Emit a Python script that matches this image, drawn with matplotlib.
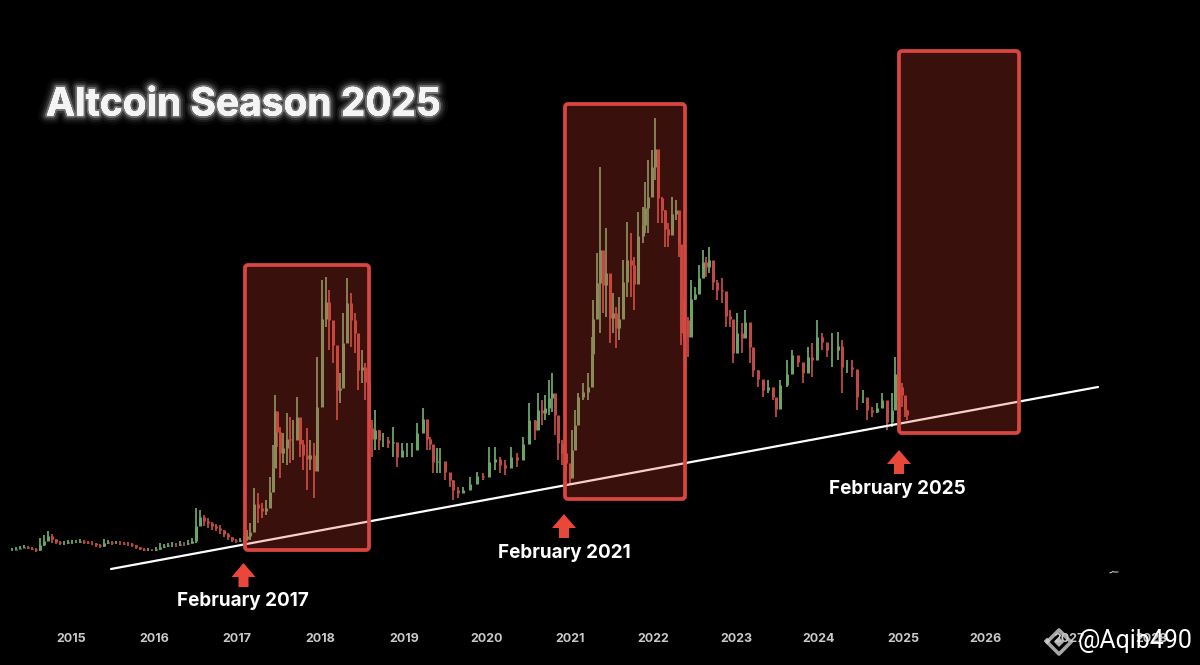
import numpy as np
import matplotlib
matplotlib.use("Agg")
import matplotlib.pyplot as plt
import matplotlib.patheffects as pe
from matplotlib.patches import FancyBboxPatch

# chart units: the axes run 0-1200 across and 665-0 down
year_labels = ["2015", "2016", "2017", "2018", "2019", "2020", "2021", "2022",
               "2023", "2024", "2025", "2026", "2027", "2028"]
year_pos = [71.5, 154.5, 237, 320, 404, 487, 570, 653, 736, 819, 903, 986, 1069, 1152]

bar_x = [12, 16, 20, 24, 28, 32, 36, 40, 44, 48, 52, 56, 60, 64, 68, 72, 76, 80, 84, 88,
         92, 96, 100, 104, 108, 112, 116, 120, 124, 128, 132, 136, 140, 144, 148, 152,
         156, 160, 164, 168, 172, 176, 180, 184, 188, 192, 196, 200, 204, 208, 212, 216,
         220, 224, 228, 232, 236, 240, 244, 247,
         250, 254, 258, 262, 266, 270, 273, 275, 277, 280, 283, 287, 290, 293, 297, 300,
         303, 307, 310, 314, 317, 322, 326, 329, 333, 337, 340, 343, 347, 351, 355, 358,
         362, 365, 369, 372, 375, 379, 383, 388, 393, 397, 402, 407, 412, 417, 423, 427,
         430, 433, 437, 440, 445, 450, 453, 458, 463, 470, 477, 483, 489, 495, 500, 505,
         511, 517, 523, 529, 535, 538, 542, 545, 549, 552, 555, 558, 562, 566, 570,
         572, 575, 578, 583, 588, 592, 593, 597, 600, 603, 606, 610, 613, 616, 619, 623,
         627, 631, 634, 638, 643, 645, 648, 652, 655, 658, 662, 665, 668, 672, 676, 679,
         681, 684, 688, 691, 695, 699, 703, 706, 709, 713, 717, 722, 726, 730, 733, 737,
         742, 745, 750, 753, 758, 763, 768, 773, 776, 780, 787, 792, 798, 803, 808, 812,
         817, 822, 827, 832, 838, 842, 847, 852, 857, 863, 867, 872, 877, 882, 887, 892,
         895, 898, 902, 905, 907]
bar_high = [548, 547, 546, 545, 546, 547, 548, 538, 535, 531, 534, 539, 541, 541, 540, 540,
            540, 539, 540, 541, 541, 543, 544, 539, 540, 541, 541, 541, 542, 542, 543, 545,
            547, 548, 548, 549, 547, 543, 544, 543, 542, 543, 541, 542, 540, 538, 508, 510,
            515, 518, 522, 524, 525, 530, 533, 537, 539, 538, 536, 530,
            523, 488, 493, 503, 500, 477, 445, 395, 417, 427, 433, 413, 417, 420, 397, 430,
            440, 428, 440, 443, 357, 280, 277, 290, 327, 360, 373, 313, 278, 293, 313, 350,
            350, 363, 403, 420, 410, 430, 433, 437, 427, 447, 443, 443, 443, 423, 408, 427,
            437, 450, 448, 448, 463, 473, 480, 487, 487, 477, 472, 473, 447, 447, 457, 460,
            447, 453, 437, 403, 420, 393, 400, 395, 380, 373, 395, 425, 440, 455, 470,
            430, 410, 393, 383, 373, 337, 300, 253, 167, 257, 228, 293, 293, 307, 297, 260,
            222, 233, 257, 212, 207, 182, 160, 150, 118, 173, 197, 210, 223, 197, 200, 230,
            320, 300, 317, 280, 287, 265, 250, 257, 247, 273, 280, 278, 305, 310, 343, 313,
            323, 310, 330, 363, 370, 383, 380, 393, 400, 380, 360, 350, 357, 363, 347, 343,
            320, 333, 343, 333, 332, 340, 360, 360, 383, 390, 400, 407, 403, 393, 413, 393,
            357, 373, 383, 403, 410]
bar_low = [551, 550, 549, 548, 549, 550, 552, 551, 546, 540, 543, 544, 545, 545, 544, 544,
           543, 543, 544, 544, 545, 547, 548, 547, 544, 545, 544, 545, 545, 546, 547, 549,
           550, 551, 551, 551, 551, 550, 548, 547, 547, 547, 546, 546, 545, 544, 543, 523,
           526, 528, 530, 531, 534, 537, 540, 542, 543, 542, 541, 541,
           540, 520, 523, 518, 515, 507, 490, 427, 447, 478, 463, 465, 463, 460, 437, 457,
           470, 490, 470, 498, 457, 357, 327, 350, 363, 420, 403, 373, 327, 347, 353, 390,
           383, 400, 453, 457, 450, 450, 447, 448, 457, 467, 457, 457, 457, 443, 430, 450,
           450, 473, 473, 473, 480, 487, 500, 498, 493, 490, 480, 480, 477, 470, 473, 475,
           467, 467, 450, 437, 440, 427, 425, 420, 415, 412, 435, 460, 465, 470, 485,
           470, 440, 400, 400, 400, 370, 337, 313, 333, 313, 317, 343, 333, 348, 340, 303,
           297, 297, 310, 260, 243, 233, 233, 183, 180, 223, 223, 247, 247, 230, 220, 257,
           345, 340, 357, 317, 300, 290, 273, 277, 273, 290, 300, 303, 327, 327, 363, 353,
           353, 333, 363, 377, 387, 397, 393, 400, 417, 390, 387, 360, 367, 383, 367, 377,
           353, 350, 357, 367, 360, 393, 373, 377, 410, 403, 420, 417, 413, 407, 430, 427,
           390, 400, 407, 417, 420]

box_left = [245, 565, 899]
box_right = [369, 685, 1019]
box_top = [265, 104, 51]
box_bottom = [550, 499, 433]

trend_x = [111, 1098]
trend_y = [569, 387]

arrow_x = [243.5, 564, 899]
arrow_tip = [563, 514, 450]
note_labels = ["February 2017", "February 2021", "February 2025"]
note_x = [243, 564, 897]
note_y = [601.5, 552.5, 488.5]

RED = "#e8473a"
GREEN_BAR = "#6ba368"
RED_BAR = "#bd4a44"

fig = plt.figure(figsize=(12, 6.65), dpi=100, facecolor="black")
ax = fig.add_axes([0, 0, 1, 1], facecolor="black")
ax.set_xlim(0, 1200)
ax.set_ylim(665, 0)

# candles: each one opens at the midpoint of the one before and closes at its own
high = np.array(bar_high, dtype=float)
low = np.array(bar_low, dtype=float)
close = (high + low) / 2
open_ = np.r_[close[0], close[:-1]]
colors = [GREEN_BAR if c <= o else RED_BAR for o, c in zip(open_, close)]
ax.vlines(bar_x, high, low, colors=colors, lw=1.3, zorder=2)
ax.vlines(bar_x, open_, close, colors=colors, lw=2.2, zorder=2)

ax.plot(trend_x, trend_y, color="white", lw=1.6, solid_capstyle="round", zorder=3)

for left, right, top, bottom in zip(box_left, box_right, box_top, box_bottom):
    box = FancyBboxPatch((left, top), right - left, bottom - top,
                         boxstyle="round,pad=0,rounding_size=3",
                         facecolor=(0.91, 0.26, 0.2, 0.25), edgecolor="#d8463f",
                         lw=2.7, zorder=4)
    ax.add_patch(box)

for x, tip in zip(arrow_x, arrow_tip):
    ax.arrow(x, tip + 24, 0, -24, width=10, head_width=24, head_length=14,
             length_includes_head=True, facecolor=RED, edgecolor="none", zorder=5)

for label, x, y in zip(note_labels, note_x, note_y):
    ax.text(x, y, label, color="white", fontsize=13.6, fontweight="bold", family="Inter",
            ha="center", va="center", zorder=6)

title = ax.text(46, 105, "Altcoin Season 2025", color="#f4f4f4", fontsize=28, fontweight="bold",
                family="Inter", ha="left", va="center", zorder=6)
title.set_path_effects([pe.withStroke(linewidth=13, foreground="white", alpha=0.04),
                        pe.withStroke(linewidth=9, foreground="white", alpha=0.07),
                        pe.withStroke(linewidth=6, foreground="white", alpha=0.12),
                        pe.withStroke(linewidth=3, foreground="white", alpha=0.3),
                        pe.Normal()])

ax.set_xticks(year_pos)
ax.set_xticklabels(year_labels, family="Inter", fontweight="bold")
ax.tick_params(axis="x", length=0, labelsize=9, labelcolor="#c9c9c9", pad=-23)
ax.set_yticks([])
for spine in ax.spines.values():
    spine.set_visible(False)

# stray speck right of the trend line
ax.plot([1110, 1113, 1114, 1118], [573, 571.5, 572, 572], color="white", lw=0.6, zorder=3)

# watermark over the last tick labels
ax.scatter([1059], [642], marker="D", s=150, facecolor="none", edgecolor="#c4c4c4",
           lw=2.6, alpha=0.85, zorder=7)
ax.scatter([1059, 1047], [642, 641], marker="D", s=[26, 12], facecolor="#d0d0d0",
           edgecolor="none", alpha=0.85, zorder=7)
ax.text(1078, 641, "@Aqib490", color="white", fontsize=18, family="Roboto",
        ha="left", va="center", zorder=7)

fig.savefig("out.png", dpi=100, facecolor="black")
